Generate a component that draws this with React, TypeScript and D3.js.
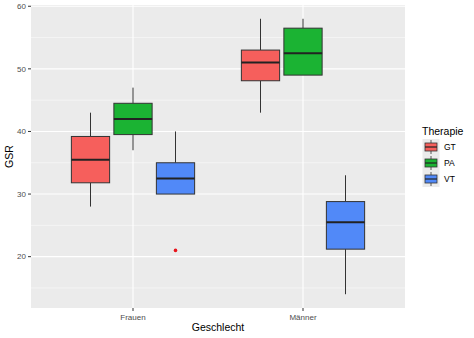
import React from "react";
import * as d3 from "d3";

const groups = ["Frauen", "Männer"];
const therapies = ["GT", "PA", "VT"];
const colors = ["#F65F5C", "#1BB333", "#5189F8"];
// [lowerWhisker, q1, median, q3, upperWhisker] per group per therapy
const frauenStats = [
  [28, 31.8, 35.5, 39.2, 43],
  [37, 39.5, 42, 44.5, 47],
  [30, 30, 32.5, 35, 40],
];
const maennerStats = [
  [43, 48.1, 51, 53, 58],
  [49, 49, 52.5, 56.5, 58],
  [14, 21.2, 25.5, 28.8, 33],
];
const outliers = [{ group: "Frauen", therapy: "VT", value: 21 }];
const yTicks = [20, 30, 40, 50, 60];
const yMinor = [15, 25, 35, 45, 55];

export default function App() {
  const W = 474, H = 338;
  const left = 31, right = 405, top = 5, bottom = 308;
  const y = d3.scaleLinear().domain([11.8, 60.2]).range([bottom, top]);
  const x = d3.scaleLinear().domain([0.4, 2.6]).range([left, right]);
  const unit = x(2) - x(1);
  const cx = (g: string) => x(groups.indexOf(g) + 1);
  const slot = 0.25 * unit;
  const boxW = 0.9 * slot;
  const dodge = (i: number) => (i - 1) * slot;
  const stats = [frauenStats, maennerStats];
  const font = "Liberation Sans, Arial, sans-serif";

  return (
    <svg width={W} height={H} style={{ position: "absolute", left: 0, top: 0 }} fontFamily={font}>
      <rect x={0} y={0} width={W} height={H} fill="white" />
      <rect x={left} y={top} width={right - left} height={bottom - top} fill="#EBEBEB" />
      {yMinor.map((t) => (
        <line key={"m" + t} x1={left} x2={right} y1={y(t)} y2={y(t)} stroke="white" strokeWidth={0.5} />
      ))}
      {yTicks.map((t) => (
        <line key={"g" + t} x1={left} x2={right} y1={y(t)} y2={y(t)} stroke="white" strokeWidth={1.1} />
      ))}
      {groups.map((g) => (
        <line key={"v" + g} x1={cx(g)} x2={cx(g)} y1={top} y2={bottom} stroke="white" strokeWidth={1.1} />
      ))}
      {groups.map((g, gi) =>
        therapies.map((t, ti) => {
          const [lw, q1, med, q3, uw] = stats[gi][ti];
          const c = cx(g) + dodge(ti);
          return (
            <g key={g + t}>
              <line x1={c} x2={c} y1={y(uw)} y2={y(q3)} stroke="#333333" strokeWidth={1} />
              <line x1={c} x2={c} y1={y(q1)} y2={y(lw)} stroke="#333333" strokeWidth={1} />
              <rect x={c - boxW / 2} y={y(q3)} width={boxW} height={y(q1) - y(q3)} fill={colors[ti]} stroke="#333333" strokeWidth={1} />
              <line x1={c - boxW / 2} x2={c + boxW / 2} y1={y(med)} y2={y(med)} stroke="#222222" strokeWidth={2} />
            </g>
          );
        })
      )}
      {outliers.map((o, i) => (
        <circle key={i} cx={cx(o.group) + dodge(therapies.indexOf(o.therapy))} cy={y(o.value)} r={1.8} fill="#E8141C" />
      ))}
      {yTicks.map((t) => (
        <g key={"yt" + t}>
          <line x1={left - 3} x2={left} y1={y(t)} y2={y(t)} stroke="#333333" strokeWidth={1} />
          <text x={left - 5} y={y(t)} dy="0.35em" textAnchor="end" fontSize={8} fill="#4D4D4D">{t}</text>
        </g>
      ))}
      {groups.map((g) => (
        <g key={"xt" + g}>
          <line x1={cx(g)} x2={cx(g)} y1={bottom} y2={bottom + 3} stroke="#333333" strokeWidth={1} />
          <text x={cx(g)} y={bottom + 12} textAnchor="middle" fontSize={8} fill="#4D4D4D">{g}</text>
        </g>
      ))}
      <text x={(left + right) / 2} y={bottom + 23} textAnchor="middle" fontSize={10.5} fill="black">Geschlecht</text>
      <text transform={`translate(13,${(top + bottom) / 2}) rotate(-90)`} textAnchor="middle" fontSize={10.5} fill="black">GSR</text>
      <text x={422} y={135} fontSize={10.5} fill="black">Therapie</text>
      {therapies.map((t, i) => {
        const ky = 147 + i * 16;
        const kx = 431;
        return (
          <g key={"lg" + t}>
            <rect x={kx - 8.5} y={ky - 8} width={17} height={16} fill="#EBEBEB" />
            <line x1={kx} x2={kx} y1={ky - 7} y2={ky + 7} stroke="#333333" strokeWidth={0.8} />
            <rect x={kx - 6} y={ky - 4} width={12} height={8} fill={colors[i]} stroke="#333333" strokeWidth={0.8} />
            <line x1={kx - 6} x2={kx + 6} y1={ky} y2={ky} stroke="#222222" strokeWidth={1.2} />
            <text x={444} y={ky} dy="0.35em" fontSize={8.5} fill="black">{t}</text>
          </g>
        );
      })}
    </svg>
  );
}
